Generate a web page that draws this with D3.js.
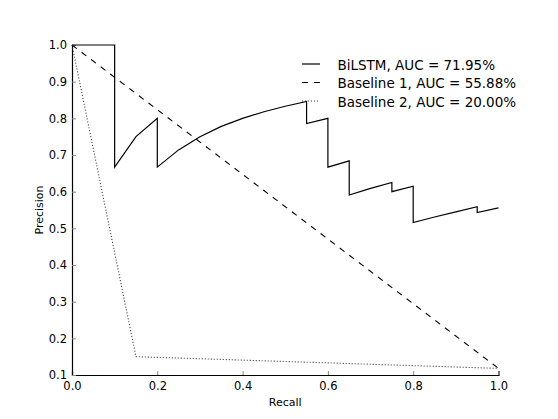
<!DOCTYPE html>
<html>
<head>
<meta charset="utf-8">
<script src="https://cdn.jsdelivr.net/npm/d3@7"></script>
<style>
  body { margin: 0; background: #fff; }
  text { font-family: "DejaVu Sans", sans-serif; }
</style>
</head>
<body>
<div id="chart"></div>
<script>
// BiLSTM precision/recall curve (steps drawn as repeated recall values)
const bilstmRecall = [0.0, 0.05, 0.1, 0.1, 0.15, 0.2, 0.2, 0.25, 0.3, 0.35, 0.4, 0.45, 0.5, 0.55,
  0.55, 0.6, 0.6, 0.65, 0.65, 0.7, 0.75, 0.75, 0.8, 0.8, 0.85, 0.9, 0.95, 0.95, 1.0];
const bilstmPrecision = [1.0, 1.0, 1.0, 0.667, 0.75, 0.8, 0.667, 0.714, 0.75, 0.778, 0.8, 0.818, 0.833, 0.846,
  0.786, 0.8, 0.667, 0.684, 0.591, 0.609, 0.625, 0.6, 0.615, 0.516, 0.531, 0.545, 0.559, 0.543, 0.556];

const base1Recall = [0.0, 1.0];
const base1Precision = [1.0, 0.118];

const base2Recall = [0.0, 0.15, 1.0];
const base2Precision = [1.0, 0.15, 0.118];

const legendLabels = ["BiLSTM, AUC = 71.95%", "Baseline 1, AUC = 55.88%", "Baseline 2, AUC = 20.00%"];
const xTicks = [0.0, 0.2, 0.4, 0.6, 0.8, 1.0];
const yTicks = [0.1, 0.2, 0.3, 0.4, 0.5, 0.6, 0.7, 0.8, 0.9, 1.0];

const width = 558;
const height = 419;
const margin = { top: 45, right: 60, bottom: 44, left: 72 };

const svg = d3.select("#chart")
  .append("svg")
  .attr("width", width)
  .attr("height", height);

const x = d3.scaleLinear()
  .domain([0, 1])
  .range([margin.left, 498.5]);

const y = d3.scaleLinear()
  .domain([0.1, 1.0])
  .range([height - margin.bottom, margin.top]);

// axes: only left and bottom spines, ticks pointing inward
const xAxis = svg.append("g")
  .attr("transform", `translate(0,${height - margin.bottom})`)
  .call(d3.axisBottom(x).tickValues(xTicks).tickFormat(d3.format(".1f")).tickSize(-4).tickPadding(7));

const yAxis = svg.append("g")
  .attr("transform", `translate(${margin.left},0)`)
  .call(d3.axisLeft(y).tickValues(yTicks).tickFormat(d3.format(".1f")).tickSize(-4).tickPadding(5));

[xAxis, yAxis].forEach(g => {
  g.select(".domain").attr("stroke", "#000").attr("stroke-width", 1.2);
  g.selectAll(".tick line").attr("stroke", "#888");
  g.selectAll(".tick text").attr("fill", "#000").style("font-size", "11.5px").attr("font-family", "DejaVu Sans");
});

const zip = (xs, ys) => xs.map((v, i) => [v, ys[i]]);
const line = d3.line().x(d => x(d[0])).y(d => y(d[1]));

const series = [
  { data: zip(bilstmRecall, bilstmPrecision), dash: null, color: "#000", w: 1.2 },
  { data: zip(base1Recall, base1Precision), dash: "6,6", color: "#000", w: 1.1 },
  { data: zip(base2Recall, base2Precision), dash: "1,2", color: "#333", w: 1.1 }
];

series.forEach(s => {
  svg.append("path")
    .datum(s.data)
    .attr("fill", "none")
    .attr("stroke", s.color)
    .attr("stroke-width", s.w)
    .attr("stroke-dasharray", s.dash)
    .attr("d", line);
});

// legend
const legend = svg.append("g").attr("transform", "translate(302,64)");
series.forEach((s, i) => {
  const row = legend.append("g").attr("transform", `translate(0,${i * 18.5})`);
  row.append("line")
    .attr("x1", 0).attr("x2", 18)
    .attr("stroke", s.color)
    .attr("stroke-width", s.w)
    .attr("stroke-dasharray", s.dash);
  row.append("text")
    .attr("x", 35.5)
    .attr("y", 5.5)
    .style("font-size", "13.5px")
    .text(legendLabels[i]);
});

svg.append("text")
  .attr("x", (x(0) + x(1)) / 2)
  .attr("y", 406)
  .attr("text-anchor", "middle")
  .style("font-size", "11px")
  .text("Recall");

svg.append("text")
  .attr("transform", `translate(43,${(y(0.1) + y(1.0)) / 2}) rotate(-90)`)
  .attr("text-anchor", "middle")
  .style("font-size", "11px")
  .text("Precision");
</script>
</body>
</html>
